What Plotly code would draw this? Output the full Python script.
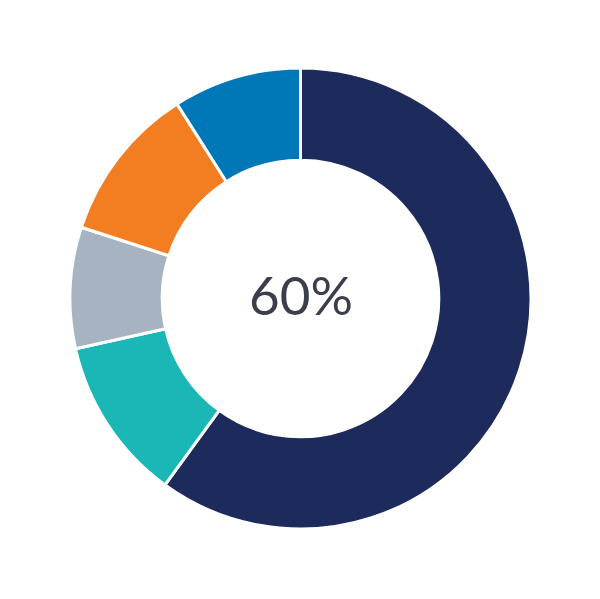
import plotly.graph_objects as go

# Segments, dans l'ordre horaire depuis le haut
labels = ["A", "B", "C", "D", "E"]
values = [60, 11.5, 8.5, 11, 9]
colors = ["#1c2b5c", "#1bb6b6", "#a8b3c1", "#f27e21", "#0077b6"]
center_text = "60%"

fig = go.Figure(go.Pie(
    labels=labels,
    values=values,
    hole=0.6,
    sort=False,
    direction="clockwise",
    rotation=0,
    marker=dict(colors=colors, line=dict(color="white", width=3)),
    textinfo="none",
    hoverinfo="label+percent",
    showlegend=False,
))

fig.add_annotation(
    text=center_text, x=0.5, y=0.5, xref="paper", yref="paper", yshift=4,
    showarrow=False, font=dict(family="Lato", size=53, color="#3a3f4b"),
)

# la page ajoute ~8px de marge autour du graphique
fig.update_layout(
    width=600, height=599,
    margin=dict(l=62, r=77, t=60, b=78),
    paper_bgcolor="white", plot_bgcolor="white",
)

fig.write_html("out.html")
